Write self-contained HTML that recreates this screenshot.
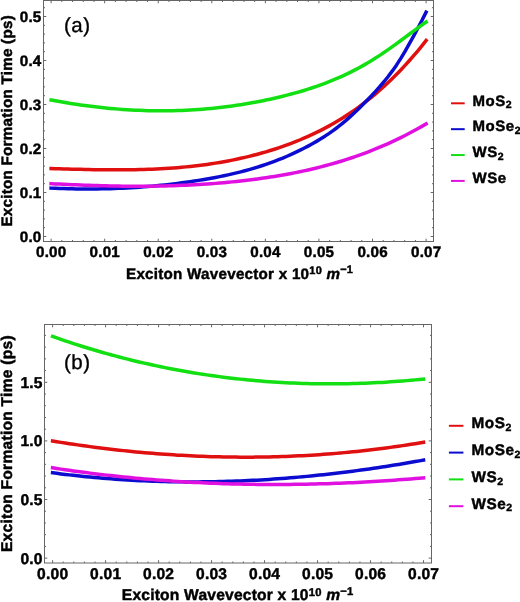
<!DOCTYPE html>
<html><head><meta charset="utf-8"><title>Exciton formation time</title>
<style>
html,body{margin:0;padding:0;background:#fff;}
svg{display:block;}
text{text-rendering:geometricPrecision;}
.b{font-family:"Liberation Sans",sans-serif;font-weight:bold;fill:#000;stroke:#000;stroke-width:0.45px;}
.r{font-family:"Liberation Sans",sans-serif;font-weight:normal;fill:#000;stroke:#000;stroke-width:0.35px;}
</style></head><body>
<svg width="520" height="602" viewBox="0 0 520 602">
<rect width="520" height="602" fill="#fff"/>
<path d="M51.10,241.5 V238.70 M51.10,0.5 V3.30 M61.81,241.5 V240.00 M61.81,0.5 V2.00 M72.53,241.5 V240.00 M72.53,0.5 V2.00 M83.24,241.5 V240.00 M83.24,0.5 V2.00 M93.96,241.5 V240.00 M93.96,0.5 V2.00 M104.67,241.5 V238.70 M104.67,0.5 V3.30 M115.38,241.5 V240.00 M115.38,0.5 V2.00 M126.10,241.5 V240.00 M126.10,0.5 V2.00 M136.81,241.5 V240.00 M136.81,0.5 V2.00 M147.53,241.5 V240.00 M147.53,0.5 V2.00 M158.24,241.5 V238.70 M158.24,0.5 V3.30 M168.95,241.5 V240.00 M168.95,0.5 V2.00 M179.67,241.5 V240.00 M179.67,0.5 V2.00 M190.38,241.5 V240.00 M190.38,0.5 V2.00 M201.10,241.5 V240.00 M201.10,0.5 V2.00 M211.81,241.5 V238.70 M211.81,0.5 V3.30 M222.52,241.5 V240.00 M222.52,0.5 V2.00 M233.24,241.5 V240.00 M233.24,0.5 V2.00 M243.95,241.5 V240.00 M243.95,0.5 V2.00 M254.67,241.5 V240.00 M254.67,0.5 V2.00 M265.38,241.5 V238.70 M265.38,0.5 V3.30 M276.09,241.5 V240.00 M276.09,0.5 V2.00 M286.81,241.5 V240.00 M286.81,0.5 V2.00 M297.52,241.5 V240.00 M297.52,0.5 V2.00 M308.24,241.5 V240.00 M308.24,0.5 V2.00 M318.95,241.5 V238.70 M318.95,0.5 V3.30 M329.66,241.5 V240.00 M329.66,0.5 V2.00 M340.38,241.5 V240.00 M340.38,0.5 V2.00 M351.09,241.5 V240.00 M351.09,0.5 V2.00 M361.81,241.5 V240.00 M361.81,0.5 V2.00 M372.52,241.5 V238.70 M372.52,0.5 V3.30 M383.23,241.5 V240.00 M383.23,0.5 V2.00 M393.95,241.5 V240.00 M393.95,0.5 V2.00 M404.66,241.5 V240.00 M404.66,0.5 V2.00 M415.38,241.5 V240.00 M415.38,0.5 V2.00 M426.09,241.5 V238.70 M426.09,0.5 V3.30 M43.5,236.50 H46.30 M433.5,236.50 H430.70 M43.5,227.70 H45.00 M433.5,227.70 H432.00 M43.5,218.90 H45.00 M433.5,218.90 H432.00 M43.5,210.10 H45.00 M433.5,210.10 H432.00 M43.5,201.30 H45.00 M433.5,201.30 H432.00 M43.5,192.50 H46.30 M433.5,192.50 H430.70 M43.5,183.70 H45.00 M433.5,183.70 H432.00 M43.5,174.90 H45.00 M433.5,174.90 H432.00 M43.5,166.10 H45.00 M433.5,166.10 H432.00 M43.5,157.30 H45.00 M433.5,157.30 H432.00 M43.5,148.50 H46.30 M433.5,148.50 H430.70 M43.5,139.70 H45.00 M433.5,139.70 H432.00 M43.5,130.90 H45.00 M433.5,130.90 H432.00 M43.5,122.10 H45.00 M433.5,122.10 H432.00 M43.5,113.30 H45.00 M433.5,113.30 H432.00 M43.5,104.50 H46.30 M433.5,104.50 H430.70 M43.5,95.70 H45.00 M433.5,95.70 H432.00 M43.5,86.90 H45.00 M433.5,86.90 H432.00 M43.5,78.10 H45.00 M433.5,78.10 H432.00 M43.5,69.30 H45.00 M433.5,69.30 H432.00 M43.5,60.50 H46.30 M433.5,60.50 H430.70 M43.5,51.70 H45.00 M433.5,51.70 H432.00 M43.5,42.90 H45.00 M433.5,42.90 H432.00 M43.5,34.10 H45.00 M433.5,34.10 H432.00 M43.5,25.30 H45.00 M433.5,25.30 H432.00 M43.5,16.50 H46.30 M433.5,16.50 H430.70 M43.5,7.70 H45.00 M433.5,7.70 H432.00" stroke="#666" stroke-width="1" fill="none"/>
<rect x="43.5" y="0.5" width="390.0" height="241.0" stroke="#666" stroke-width="1" fill="none"/>
<path d="M51.10,168.58 L55.31,168.70 L59.53,168.82 L63.74,168.94 L67.95,169.05 L72.17,169.16 L76.38,169.27 L80.59,169.37 L84.81,169.46 L89.02,169.55 L93.23,169.63 L97.45,169.70 L101.66,169.75 L105.87,169.80 L110.09,169.83 L114.30,169.84 L118.51,169.84 L122.73,169.83 L126.94,169.79 L131.15,169.74 L135.37,169.67 L139.58,169.58 L143.79,169.46 L148.01,169.33 L152.22,169.17 L156.43,168.98 L160.65,168.77 L164.86,168.53 L169.07,168.26 L173.29,167.96 L177.50,167.64 L181.71,167.28 L185.93,166.88 L190.14,166.46 L194.35,166.00 L198.57,165.50 L202.78,164.97 L206.99,164.40 L211.21,163.79 L215.42,163.14 L219.63,162.45 L223.85,161.71 L228.06,160.94 L232.27,160.11 L236.49,159.25 L240.70,158.33 L244.92,157.37 L249.13,156.36 L253.34,155.30 L257.56,154.19 L261.77,153.03 L265.98,151.81 L270.20,150.54 L274.41,149.21 L278.62,147.83 L282.84,146.39 L287.05,144.89 L291.26,143.33 L295.48,141.70 L299.69,140.00 L303.90,138.23 L308.12,136.38 L312.33,134.46 L316.54,132.45 L320.76,130.35 L324.97,128.17 L329.18,125.89 L333.40,123.52 L337.61,121.05 L341.82,118.47 L346.04,115.80 L350.25,113.01 L354.46,110.11 L358.68,107.10 L362.89,103.96 L367.10,100.71 L371.32,97.33 L375.53,93.82 L379.74,90.19 L383.96,86.41 L388.17,82.50 L392.38,78.45 L396.60,74.26 L400.81,69.92 L405.02,65.42 L409.24,60.77 L413.45,55.97 L417.66,51.01 L421.88,45.88 L426.09,40.58" stroke="#e01010" stroke-width="3.5" fill="none" stroke-linecap="square" stroke-linejoin="round"/>
<path d="M51.10,188.13 L55.31,188.32 L59.53,188.48 L63.74,188.62 L67.95,188.74 L72.17,188.83 L76.38,188.90 L80.59,188.95 L84.81,188.98 L89.02,188.98 L93.23,188.96 L97.45,188.91 L101.66,188.85 L105.87,188.75 L110.09,188.64 L114.30,188.50 L118.51,188.34 L122.73,188.15 L126.94,187.93 L131.15,187.70 L135.37,187.43 L139.58,187.14 L143.79,186.83 L148.01,186.49 L152.22,186.13 L156.43,185.73 L160.65,185.32 L164.86,184.87 L169.07,184.40 L173.29,183.91 L177.50,183.39 L181.71,182.84 L185.93,182.26 L190.14,181.66 L194.35,181.02 L198.57,180.37 L202.78,179.68 L206.99,178.96 L211.21,178.21 L215.42,177.43 L219.63,176.61 L223.85,175.75 L228.06,174.85 L232.27,173.90 L236.49,172.90 L240.70,171.85 L244.92,170.75 L249.13,169.60 L253.34,168.38 L257.56,167.11 L261.77,165.77 L265.98,164.36 L270.20,162.89 L274.41,161.34 L278.62,159.72 L282.84,158.02 L287.05,156.25 L291.26,154.39 L295.48,152.45 L299.69,150.42 L303.90,148.30 L308.12,146.08 L312.33,143.77 L316.54,141.36 L320.76,138.83 L324.97,136.17 L329.18,133.35 L333.40,130.38 L337.61,127.23 L341.82,123.90 L346.04,120.37 L350.25,116.66 L354.46,112.79 L358.68,108.76 L362.89,104.60 L367.10,100.31 L371.32,95.92 L375.53,91.39 L379.74,86.69 L383.96,81.75 L388.17,76.51 L392.38,70.90 L396.60,64.88 L400.81,58.38 L405.02,51.38 L409.24,43.99 L413.45,36.32 L417.66,28.48 L421.88,20.58 L426.09,12.18" stroke="#0c0cd0" stroke-width="3.5" fill="none" stroke-linecap="square" stroke-linejoin="round"/>
<path d="M51.10,100.01 L55.31,100.80 L59.53,101.56 L63.74,102.29 L67.95,103.00 L72.17,103.67 L76.38,104.32 L80.59,104.93 L84.81,105.52 L89.02,106.08 L93.23,106.60 L97.45,107.10 L101.66,107.57 L105.87,108.00 L110.09,108.41 L114.30,108.78 L118.51,109.13 L122.73,109.44 L126.94,109.72 L131.15,109.97 L135.37,110.19 L139.58,110.37 L143.79,110.52 L148.01,110.64 L152.22,110.73 L156.43,110.79 L160.65,110.81 L164.86,110.80 L169.07,110.76 L173.29,110.68 L177.50,110.57 L181.71,110.42 L185.93,110.24 L190.14,110.03 L194.35,109.78 L198.57,109.49 L202.78,109.18 L206.99,108.82 L211.21,108.43 L215.42,108.01 L219.63,107.55 L223.85,107.05 L228.06,106.52 L232.27,105.95 L236.49,105.35 L240.70,104.70 L244.92,104.03 L249.13,103.31 L253.34,102.56 L257.56,101.77 L261.77,100.94 L265.98,100.07 L270.20,99.17 L274.41,98.22 L278.62,97.24 L282.84,96.22 L287.05,95.16 L291.26,94.06 L295.48,92.91 L299.69,91.71 L303.90,90.45 L308.12,89.14 L312.33,87.78 L316.54,86.35 L320.76,84.85 L324.97,83.29 L329.18,81.65 L333.40,79.94 L337.61,78.16 L341.82,76.29 L346.04,74.34 L350.25,72.31 L354.46,70.18 L358.68,67.97 L362.89,65.65 L367.10,63.24 L371.32,60.73 L375.53,58.11 L379.74,55.39 L383.96,52.56 L388.17,49.63 L392.38,46.63 L396.60,43.57 L400.81,40.48 L405.02,37.36 L409.24,34.23 L413.45,31.12 L417.66,28.04 L421.88,25.02 L426.09,22.06" stroke="#12e012" stroke-width="3.5" fill="none" stroke-linecap="square" stroke-linejoin="round"/>
<path d="M51.10,183.68 L55.31,183.90 L59.53,184.11 L63.74,184.31 L67.95,184.50 L72.17,184.69 L76.38,184.86 L80.59,185.03 L84.81,185.19 L89.02,185.34 L93.23,185.47 L97.45,185.60 L101.66,185.72 L105.87,185.83 L110.09,185.92 L114.30,186.00 L118.51,186.07 L122.73,186.13 L126.94,186.17 L131.15,186.21 L135.37,186.22 L139.58,186.22 L143.79,186.21 L148.01,186.18 L152.22,186.14 L156.43,186.08 L160.65,186.01 L164.86,185.92 L169.07,185.81 L173.29,185.68 L177.50,185.54 L181.71,185.37 L185.93,185.19 L190.14,184.99 L194.35,184.77 L198.57,184.54 L202.78,184.28 L206.99,184.00 L211.21,183.70 L215.42,183.37 L219.63,183.03 L223.85,182.67 L228.06,182.28 L232.27,181.87 L236.49,181.43 L240.70,180.97 L244.92,180.49 L249.13,179.98 L253.34,179.45 L257.56,178.90 L261.77,178.31 L265.98,177.71 L270.20,177.07 L274.41,176.41 L278.62,175.71 L282.84,174.99 L287.05,174.23 L291.26,173.44 L295.48,172.61 L299.69,171.75 L303.90,170.86 L308.12,169.92 L312.33,168.95 L316.54,167.94 L320.76,166.89 L324.97,165.79 L329.18,164.65 L333.40,163.47 L337.61,162.24 L341.82,160.97 L346.04,159.64 L350.25,158.27 L354.46,156.85 L358.68,155.38 L362.89,153.85 L367.10,152.27 L371.32,150.64 L375.53,148.95 L379.74,147.21 L383.96,145.40 L388.17,143.54 L392.38,141.62 L396.60,139.63 L400.81,137.59 L405.02,135.48 L409.24,133.30 L413.45,131.06 L417.66,128.76 L421.88,126.38 L426.09,123.94" stroke="#e010e0" stroke-width="3.5" fill="none" stroke-linecap="square" stroke-linejoin="round"/>
<text x="51.20" y="257" text-anchor="middle" class="b" font-size="15.2" letter-spacing="0.2">0.00</text>
<text x="104.77" y="257" text-anchor="middle" class="b" font-size="15.2" letter-spacing="0.2">0.01</text>
<text x="158.34" y="257" text-anchor="middle" class="b" font-size="15.2" letter-spacing="0.2">0.02</text>
<text x="211.91" y="257" text-anchor="middle" class="b" font-size="15.2" letter-spacing="0.2">0.03</text>
<text x="265.48" y="257" text-anchor="middle" class="b" font-size="15.2" letter-spacing="0.2">0.04</text>
<text x="319.05" y="257" text-anchor="middle" class="b" font-size="15.2" letter-spacing="0.2">0.05</text>
<text x="372.62" y="257" text-anchor="middle" class="b" font-size="15.2" letter-spacing="0.2">0.06</text>
<text x="426.19" y="257" text-anchor="middle" class="b" font-size="15.2" letter-spacing="0.2">0.07</text>
<text x="41.50" y="241.94" text-anchor="end" class="b" font-size="15.2" letter-spacing="0.2">0.0</text>
<text x="41.50" y="197.94" text-anchor="end" class="b" font-size="15.2" letter-spacing="0.2">0.1</text>
<text x="41.50" y="153.94" text-anchor="end" class="b" font-size="15.2" letter-spacing="0.2">0.2</text>
<text x="41.50" y="109.94" text-anchor="end" class="b" font-size="15.2" letter-spacing="0.2">0.3</text>
<text x="41.50" y="65.94" text-anchor="end" class="b" font-size="15.2" letter-spacing="0.2">0.4</text>
<text x="41.50" y="21.94" text-anchor="end" class="b" font-size="15.2" letter-spacing="0.2">0.5</text>
<text x="126" y="278.6" class="b" font-size="15.2" letter-spacing="0.25">Exciton Wavevector x 10<tspan font-size="10.94" dy="-4.9">10</tspan><tspan dy="4.9"> </tspan><tspan font-style="italic">m</tspan><tspan font-size="10.94" dy="-5.2">&#8722;1</tspan></text>
<text transform="translate(11.8,120.8) rotate(-90)" text-anchor="middle" class="b" font-size="15.2" letter-spacing="0.25">Exciton Formation Time (ps)</text>
<text x="64.0" y="31.5" class="r" font-size="20.5" letter-spacing="0.5">(a)</text>
<path d="M451,103.30 H464.7" stroke="#e01010" stroke-width="2"/>
<text x="472.4" y="105.60" class="b" font-size="15.0" letter-spacing="0.6">MoS<tspan font-size="10.5" dy="2.6">2</tspan></text>
<path d="M451,129.17 H464.7" stroke="#0c0cd0" stroke-width="2"/>
<text x="472.4" y="131.47" class="b" font-size="15.0" letter-spacing="0.6">MoSe<tspan font-size="10.5" dy="2.6">2</tspan></text>
<path d="M451,155.04 H464.7" stroke="#12e012" stroke-width="2"/>
<text x="472.4" y="157.34" class="b" font-size="15.0" letter-spacing="0.6">WS<tspan font-size="10.5" dy="2.6">2</tspan></text>
<path d="M451,180.91 H464.7" stroke="#e010e0" stroke-width="2"/>
<text x="472.4" y="183.21" class="b" font-size="15.0" letter-spacing="0.6">WSe</text>
<path d="M52.60,563 V560.20 M52.60,324.5 V327.30 M63.20,563 V561.50 M63.20,324.5 V326.00 M73.80,563 V561.50 M73.80,324.5 V326.00 M84.39,563 V561.50 M84.39,324.5 V326.00 M94.99,563 V561.50 M94.99,324.5 V326.00 M105.59,563 V560.20 M105.59,324.5 V327.30 M116.19,563 V561.50 M116.19,324.5 V326.00 M126.79,563 V561.50 M126.79,324.5 V326.00 M137.38,563 V561.50 M137.38,324.5 V326.00 M147.98,563 V561.50 M147.98,324.5 V326.00 M158.58,563 V560.20 M158.58,324.5 V327.30 M169.18,563 V561.50 M169.18,324.5 V326.00 M179.78,563 V561.50 M179.78,324.5 V326.00 M190.37,563 V561.50 M190.37,324.5 V326.00 M200.97,563 V561.50 M200.97,324.5 V326.00 M211.57,563 V560.20 M211.57,324.5 V327.30 M222.17,563 V561.50 M222.17,324.5 V326.00 M232.77,563 V561.50 M232.77,324.5 V326.00 M243.36,563 V561.50 M243.36,324.5 V326.00 M253.96,563 V561.50 M253.96,324.5 V326.00 M264.56,563 V560.20 M264.56,324.5 V327.30 M275.16,563 V561.50 M275.16,324.5 V326.00 M285.76,563 V561.50 M285.76,324.5 V326.00 M296.35,563 V561.50 M296.35,324.5 V326.00 M306.95,563 V561.50 M306.95,324.5 V326.00 M317.55,563 V560.20 M317.55,324.5 V327.30 M328.15,563 V561.50 M328.15,324.5 V326.00 M338.75,563 V561.50 M338.75,324.5 V326.00 M349.34,563 V561.50 M349.34,324.5 V326.00 M359.94,563 V561.50 M359.94,324.5 V326.00 M370.54,563 V560.20 M370.54,324.5 V327.30 M381.14,563 V561.50 M381.14,324.5 V326.00 M391.74,563 V561.50 M391.74,324.5 V326.00 M402.33,563 V561.50 M402.33,324.5 V326.00 M412.93,563 V561.50 M412.93,324.5 V326.00 M423.53,563 V560.20 M423.53,324.5 V327.30 M44.5,558.10 H47.30 M431.5,558.10 H428.70 M44.5,546.38 H46.00 M431.5,546.38 H430.00 M44.5,534.66 H46.00 M431.5,534.66 H430.00 M44.5,522.94 H46.00 M431.5,522.94 H430.00 M44.5,511.22 H46.00 M431.5,511.22 H430.00 M44.5,499.50 H47.30 M431.5,499.50 H428.70 M44.5,487.78 H46.00 M431.5,487.78 H430.00 M44.5,476.06 H46.00 M431.5,476.06 H430.00 M44.5,464.34 H46.00 M431.5,464.34 H430.00 M44.5,452.62 H46.00 M431.5,452.62 H430.00 M44.5,440.90 H47.30 M431.5,440.90 H428.70 M44.5,429.18 H46.00 M431.5,429.18 H430.00 M44.5,417.46 H46.00 M431.5,417.46 H430.00 M44.5,405.74 H46.00 M431.5,405.74 H430.00 M44.5,394.02 H46.00 M431.5,394.02 H430.00 M44.5,382.30 H47.30 M431.5,382.30 H428.70 M44.5,370.58 H46.00 M431.5,370.58 H430.00 M44.5,358.86 H46.00 M431.5,358.86 H430.00 M44.5,347.14 H46.00 M431.5,347.14 H430.00 M44.5,335.42 H46.00 M431.5,335.42 H430.00" stroke="#666" stroke-width="1" fill="none"/>
<rect x="44.5" y="324.5" width="387.0" height="238.5" stroke="#666" stroke-width="1" fill="none"/>
<path d="M52.60,441.04 L56.77,441.72 L60.94,442.38 L65.10,443.03 L69.27,443.67 L73.44,444.29 L77.61,444.89 L81.77,445.49 L85.94,446.07 L90.11,446.63 L94.28,447.18 L98.45,447.72 L102.61,448.24 L106.78,448.75 L110.95,449.24 L115.12,449.72 L119.28,450.18 L123.45,450.63 L127.62,451.06 L131.79,451.48 L135.96,451.89 L140.12,452.28 L144.29,452.66 L148.46,453.02 L152.63,453.36 L156.79,453.70 L160.96,454.01 L165.13,454.31 L169.30,454.60 L173.46,454.87 L177.63,455.13 L181.80,455.37 L185.97,455.60 L190.14,455.81 L194.30,456.00 L198.47,456.19 L202.64,456.35 L206.81,456.50 L210.97,456.64 L215.14,456.76 L219.31,456.86 L223.48,456.95 L227.65,457.02 L231.81,457.08 L235.98,457.12 L240.15,457.15 L244.32,457.16 L248.48,457.15 L252.65,457.13 L256.82,457.10 L260.99,457.05 L265.16,456.98 L269.32,456.89 L273.49,456.79 L277.66,456.68 L281.83,456.55 L285.99,456.40 L290.16,456.24 L294.33,456.06 L298.50,455.86 L302.67,455.65 L306.83,455.42 L311.00,455.18 L315.17,454.91 L319.34,454.64 L323.50,454.34 L327.67,454.03 L331.84,453.71 L336.01,453.37 L340.17,453.01 L344.34,452.63 L348.51,452.24 L352.68,451.83 L356.85,451.40 L361.01,450.96 L365.18,450.50 L369.35,450.03 L373.52,449.53 L377.68,449.02 L381.85,448.50 L386.02,447.95 L390.19,447.39 L394.36,446.82 L398.52,446.22 L402.69,445.61 L406.86,444.98 L411.03,444.34 L415.19,443.68 L419.36,443.00 L423.53,442.30" stroke="#e01010" stroke-width="3.5" fill="none" stroke-linecap="square" stroke-linejoin="round"/>
<path d="M52.60,472.82 L56.77,473.36 L60.94,473.89 L65.10,474.39 L69.27,474.88 L73.44,475.36 L77.61,475.81 L81.77,476.25 L85.94,476.68 L90.11,477.08 L94.28,477.47 L98.45,477.84 L102.61,478.20 L106.78,478.53 L110.95,478.86 L115.12,479.16 L119.28,479.45 L123.45,479.72 L127.62,479.98 L131.79,480.22 L135.96,480.44 L140.12,480.65 L144.29,480.84 L148.46,481.02 L152.63,481.17 L156.79,481.32 L160.96,481.44 L165.13,481.56 L169.30,481.65 L173.46,481.73 L177.63,481.80 L181.80,481.84 L185.97,481.88 L190.14,481.90 L194.30,481.90 L198.47,481.88 L202.64,481.86 L206.81,481.81 L210.97,481.75 L215.14,481.68 L219.31,481.59 L223.48,481.49 L227.65,481.37 L231.81,481.24 L235.98,481.09 L240.15,480.93 L244.32,480.75 L248.48,480.56 L252.65,480.35 L256.82,480.13 L260.99,479.89 L265.16,479.64 L269.32,479.38 L273.49,479.10 L277.66,478.81 L281.83,478.50 L285.99,478.18 L290.16,477.84 L294.33,477.49 L298.50,477.13 L302.67,476.76 L306.83,476.37 L311.00,475.96 L315.17,475.54 L319.34,475.11 L323.50,474.67 L327.67,474.21 L331.84,473.74 L336.01,473.25 L340.17,472.76 L344.34,472.24 L348.51,471.72 L352.68,471.18 L356.85,470.63 L361.01,470.07 L365.18,469.49 L369.35,468.90 L373.52,468.30 L377.68,467.69 L381.85,467.06 L386.02,466.42 L390.19,465.77 L394.36,465.10 L398.52,464.42 L402.69,463.73 L406.86,463.03 L411.03,462.32 L415.19,461.59 L419.36,460.85 L423.53,460.10" stroke="#0c0cd0" stroke-width="3.5" fill="none" stroke-linecap="square" stroke-linejoin="round"/>
<path d="M52.60,336.48 L56.77,337.94 L60.94,339.38 L65.10,340.80 L69.27,342.19 L73.44,343.56 L77.61,344.90 L81.77,346.22 L85.94,347.51 L90.11,348.78 L94.28,350.03 L98.45,351.25 L102.61,352.45 L106.78,353.63 L110.95,354.78 L115.12,355.90 L119.28,357.01 L123.45,358.09 L127.62,359.15 L131.79,360.18 L135.96,361.19 L140.12,362.18 L144.29,363.14 L148.46,364.08 L152.63,365.00 L156.79,365.90 L160.96,366.77 L165.13,367.62 L169.30,368.45 L173.46,369.25 L177.63,370.04 L181.80,370.80 L185.97,371.54 L190.14,372.25 L194.30,372.94 L198.47,373.62 L202.64,374.26 L206.81,374.89 L210.97,375.50 L215.14,376.08 L219.31,376.64 L223.48,377.18 L227.65,377.70 L231.81,378.20 L235.98,378.67 L240.15,379.13 L244.32,379.56 L248.48,379.97 L252.65,380.36 L256.82,380.73 L260.99,381.08 L265.16,381.41 L269.32,381.71 L273.49,382.00 L277.66,382.27 L281.83,382.51 L285.99,382.73 L290.16,382.94 L294.33,383.12 L298.50,383.28 L302.67,383.43 L306.83,383.55 L311.00,383.65 L315.17,383.73 L319.34,383.79 L323.50,383.84 L327.67,383.86 L331.84,383.86 L336.01,383.84 L340.17,383.81 L344.34,383.75 L348.51,383.68 L352.68,383.58 L356.85,383.47 L361.01,383.33 L365.18,383.18 L369.35,383.01 L373.52,382.82 L377.68,382.61 L381.85,382.38 L386.02,382.13 L390.19,381.87 L394.36,381.58 L398.52,381.28 L402.69,380.96 L406.86,380.62 L411.03,380.26 L415.19,379.88 L419.36,379.49 L423.53,379.07" stroke="#12e012" stroke-width="3.5" fill="none" stroke-linecap="square" stroke-linejoin="round"/>
<path d="M52.60,467.85 L56.77,468.49 L60.94,469.11 L65.10,469.73 L69.27,470.32 L73.44,470.91 L77.61,471.48 L81.77,472.04 L85.94,472.58 L90.11,473.12 L94.28,473.64 L98.45,474.15 L102.61,474.64 L106.78,475.12 L110.95,475.59 L115.12,476.05 L119.28,476.49 L123.45,476.92 L127.62,477.34 L131.79,477.75 L135.96,478.14 L140.12,478.53 L144.29,478.90 L148.46,479.25 L152.63,479.60 L156.79,479.93 L160.96,480.25 L165.13,480.56 L169.30,480.86 L173.46,481.14 L177.63,481.42 L181.80,481.68 L185.97,481.93 L190.14,482.16 L194.30,482.39 L198.47,482.60 L202.64,482.81 L206.81,483.00 L210.97,483.17 L215.14,483.34 L219.31,483.50 L223.48,483.64 L227.65,483.77 L231.81,483.89 L235.98,484.00 L240.15,484.10 L244.32,484.19 L248.48,484.27 L252.65,484.33 L256.82,484.38 L260.99,484.43 L265.16,484.46 L269.32,484.48 L273.49,484.49 L277.66,484.49 L281.83,484.47 L285.99,484.45 L290.16,484.41 L294.33,484.37 L298.50,484.31 L302.67,484.25 L306.83,484.17 L311.00,484.08 L315.17,483.98 L319.34,483.87 L323.50,483.76 L327.67,483.63 L331.84,483.49 L336.01,483.33 L340.17,483.17 L344.34,483.00 L348.51,482.82 L352.68,482.63 L356.85,482.43 L361.01,482.22 L365.18,481.99 L369.35,481.76 L373.52,481.52 L377.68,481.27 L381.85,481.01 L386.02,480.73 L390.19,480.45 L394.36,480.16 L398.52,479.86 L402.69,479.55 L406.86,479.23 L411.03,478.90 L415.19,478.56 L419.36,478.21 L423.53,477.85" stroke="#e010e0" stroke-width="3.5" fill="none" stroke-linecap="square" stroke-linejoin="round"/>
<text x="52.70" y="579" text-anchor="middle" class="b" font-size="15.6" letter-spacing="0.2">0.00</text>
<text x="105.69" y="579" text-anchor="middle" class="b" font-size="15.6" letter-spacing="0.2">0.01</text>
<text x="158.68" y="579" text-anchor="middle" class="b" font-size="15.6" letter-spacing="0.2">0.02</text>
<text x="211.67" y="579" text-anchor="middle" class="b" font-size="15.6" letter-spacing="0.2">0.03</text>
<text x="264.66" y="579" text-anchor="middle" class="b" font-size="15.6" letter-spacing="0.2">0.04</text>
<text x="317.65" y="579" text-anchor="middle" class="b" font-size="15.6" letter-spacing="0.2">0.05</text>
<text x="370.64" y="579" text-anchor="middle" class="b" font-size="15.6" letter-spacing="0.2">0.06</text>
<text x="423.63" y="579" text-anchor="middle" class="b" font-size="15.6" letter-spacing="0.2">0.07</text>
<text x="42.70" y="563.68" text-anchor="end" class="b" font-size="15.6" letter-spacing="0.2">0.0</text>
<text x="42.70" y="505.08" text-anchor="end" class="b" font-size="15.6" letter-spacing="0.2">0.5</text>
<text x="42.70" y="446.48" text-anchor="end" class="b" font-size="15.6" letter-spacing="0.2">1.0</text>
<text x="42.70" y="387.88" text-anchor="end" class="b" font-size="15.6" letter-spacing="0.2">1.5</text>
<text x="121.8" y="600.4" class="b" font-size="15.6" letter-spacing="0.2">Exciton Wavevector x 10<tspan font-size="11.23" dy="-4.9">10</tspan><tspan dy="4.9"> </tspan><tspan font-style="italic">m</tspan><tspan font-size="11.23" dy="-5.2">&#8722;1</tspan></text>
<text transform="translate(11.8,443.6) rotate(-90)" text-anchor="middle" class="b" font-size="15.6" letter-spacing="0.25">Exciton Formation Time (ps)</text>
<text x="64.0" y="369.4" class="r" font-size="20.5" letter-spacing="0.5">(b)</text>
<path d="M448.9,425.80 H463.4" stroke="#e01010" stroke-width="2"/>
<text x="471.4" y="428.40" class="b" font-size="15.3" letter-spacing="0.6">MoS<tspan font-size="10.5" dy="2.6">2</tspan></text>
<path d="M448.9,452.60 H463.4" stroke="#0c0cd0" stroke-width="2"/>
<text x="471.4" y="455.20" class="b" font-size="15.3" letter-spacing="0.6">MoSe<tspan font-size="10.5" dy="2.6">2</tspan></text>
<path d="M448.9,479.40 H463.4" stroke="#12e012" stroke-width="2"/>
<text x="471.4" y="482.00" class="b" font-size="15.3" letter-spacing="0.6">WS<tspan font-size="10.5" dy="2.6">2</tspan></text>
<path d="M448.9,506.20 H463.4" stroke="#e010e0" stroke-width="2"/>
<text x="471.4" y="508.80" class="b" font-size="15.3" letter-spacing="0.6">WSe<tspan font-size="10.5" dy="2.6">2</tspan></text>
</svg>
</body></html>
